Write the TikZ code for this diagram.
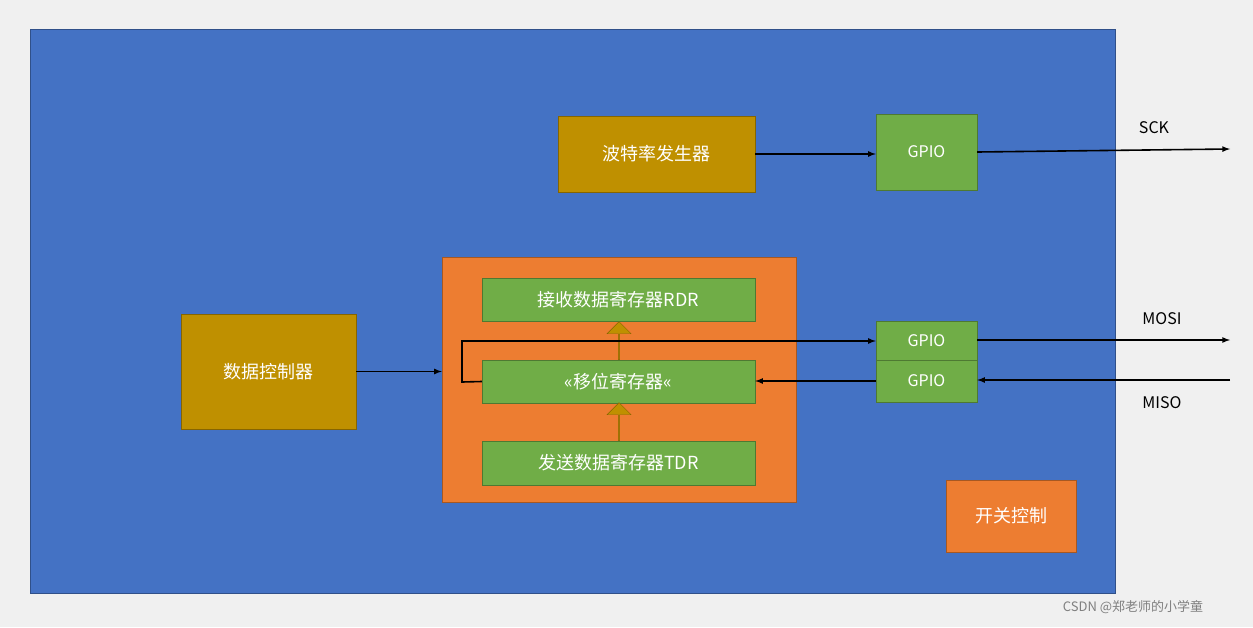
\documentclass[tikz,border=0pt]{standalone}
\usepackage{fontspec}
\setmainfont{Noto Sans CJK SC}
\usetikzlibrary{shapes.arrows}
\definecolor{bgc}{HTML}{F0F0F0}
\definecolor{blu}{HTML}{4472C4}
\definecolor{gold}{HTML}{BF9000}
\definecolor{grn}{HTML}{70AD47}
\definecolor{org}{HTML}{ED7D31}
\begin{document}
\begin{tikzpicture}[x=1pt,y=-1pt,
  box/.style={draw=#1!70!black,fill=#1,text=white,font=\fontsize{18}{20}\selectfont,inner sep=0pt},
  lbl/.style={font=\fontsize{16}{18}\selectfont,text=black},
  arr/.style={line width=1.6pt,-latex},
  barr/.style={fill=gold,draw=gold!70!black,single arrow,minimum height=38pt,single arrow head extend=4pt,minimum width=24pt,inner sep=0pt,shape border rotate=90}]
\fill[bgc] (0,0) rectangle (1253,627);
\useasboundingbox (0,0) rectangle (1253,627);
\draw[fill=blu,draw=blu!70!black] (30,29) rectangle (1115,593);
\node[box=gold,minimum width=197pt,minimum height=76pt] (baud) at (656.5,154) {波特率发生器};
\node[box=grn,minimum width=101pt,minimum height=76pt,font=\fontsize{16}{18}\selectfont] (g1) at (926.5,152) {GPIO};
\node[box=org,minimum width=354pt,minimum height=245pt] (ob) at (619,379.5) {};
\node[box=grn,minimum width=273pt,minimum height=43pt] (rdr) at (618.5,299.5) {接收数据寄存器RDR};
\node[box=grn,minimum width=273pt,minimum height=43pt] (sr) at (618.5,381.5) {<<移位寄存器<<};
\node[box=grn,minimum width=273pt,minimum height=44pt] (tdr) at (618.5,463) {发送数据寄存器TDR};
\node[box=gold,minimum width=175pt,minimum height=115pt] (dc) at (268.5,371.5) {数据控制器};
\node[box=grn,minimum width=101pt,minimum height=39pt,font=\fontsize{16}{18}\selectfont] (g2) at (926.5,340.5) {GPIO};
\node[box=grn,minimum width=101pt,minimum height=42pt,font=\fontsize{16}{18}\selectfont] (g3) at (926.5,381) {GPIO};
\node[box=org,minimum width=130pt,minimum height=72pt] (sw) at (1011,516) {开关控制};
\node[barr] (a1) at (619,341) {};
\node[barr] (a2) at (619,422) {};
\coordinate (sck) at (1230,149);
\coordinate (mosi) at (1230,340);
\coordinate (miso) at (1230,380);
\coordinate (lp1) at (462,382);
\coordinate (lp2) at (462,341);
\draw[arr] (baud.east) -- (g1.west|-baud.east);
\draw[arr] (g1.east) -- (sck);
\draw[arr] (dc.east) -- (ob.west|-dc.east);
\draw[arr] (sr.west) -- (lp1) -- (lp2) -- (g2.west|-lp2);
\draw[arr] (g2.east|-mosi) -- (mosi);
\draw[arr] (miso) -- (g3.east|-miso);
\draw[arr] (g3.west) -- (sr.east|-g3.west);
\node[lbl] at (1154,128) {SCK};
\node[lbl] at (1162,319) {MOSI};
\node[lbl] at (1162,403) {MISO};
\node[font=\fontsize{13}{15}\selectfont,text=gray] at (1133,607) {CSDN @郑老师的小学童};
\end{tikzpicture}
\end{document}
